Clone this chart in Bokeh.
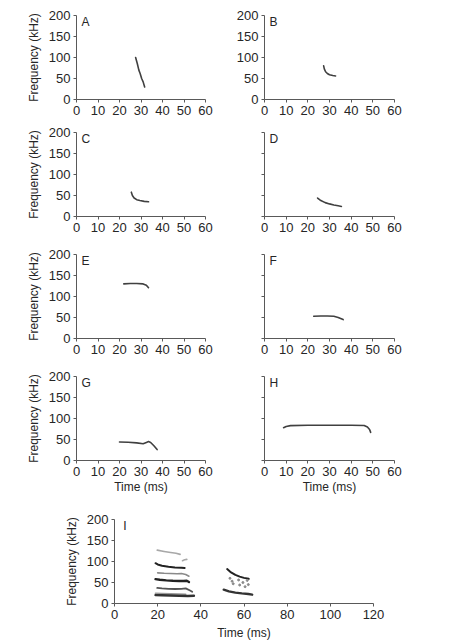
from bokeh.plotting import figure
from bokeh.models import Range1d, FixedTicker, Label
from bokeh.layouts import column, row
from bokeh.embed import file_html
from bokeh.resources import INLINE

# ---------------- data (time ms, frequency kHz) ----------------
a_t = [27.5, 28.3, 29.0, 29.6, 30.3, 31.0, 31.7]
a_f = [100, 85, 70, 62, 50, 42, 30]

b_t = [27.3, 27.6, 28.2, 29.0, 30.0, 31.5, 32.8]
b_f = [80, 73, 66, 62, 59, 57, 56]

c_t = [25.5, 26.0, 26.8, 28.0, 29.5, 31.5, 33.5]
c_f = [58, 50, 44, 40, 38, 36, 35]

d_t = [24.5, 26, 28, 30, 32, 34, 35.5]
d_f = [44, 38, 33, 30, 27.5, 25.5, 24]

e_t = [22, 25, 28, 31, 32.5, 33.5]
e_f = [130, 131, 131, 130, 127, 121]

f_t = [22.7, 26, 29, 32, 34, 36.3]
f_f = [53, 53.5, 53.5, 53, 50, 45]

g_t = [20, 24, 28, 31, 32.5, 33.5, 34.5, 36, 37.5]
g_f = [44, 43.5, 42, 40, 43, 45, 43, 35, 26]

h_t = [8.8, 10, 12, 20, 30, 40, 46, 47.5, 48.5, 49]
h_f = [78, 81, 83, 84, 84, 84, 83.5, 80, 74, 67]

# panel I: harmonics of two pulses
i1_t = [19.8, 23, 26, 28.5, 30.4]
i1_f = [127, 124, 121.5, 119.5, 117]
i1b_t = [31.5, 32.5, 33.5]
i1b_f = [102, 104, 105]
i2_t = [19, 20, 22, 25, 28, 31, 32.5]
i2_f = [96, 93, 90, 87.5, 86, 85, 84.5]
i3_t = [20, 23, 26, 29, 31, 33, 34.5]
i3_f = [73, 72, 71.5, 71, 71.5, 69, 65]
i4_t = [19, 21, 24, 27, 30, 32, 33.5, 34.5]
i4_f = [58, 56.5, 55, 54, 53.5, 53.5, 54, 51]
i5_t = [19.8, 22, 25, 28, 31, 33, 35, 36]
i5_f = [37, 36, 35, 34.5, 35, 36, 31, 28]
i6_t = [19, 22, 26, 30, 34, 36.8]
i6_f = [20, 19.5, 19, 18.5, 18, 18.5]
i6b_t = [19, 22, 26, 30, 33]
i6b_f = [24, 23.5, 23, 22.5, 22]
i7_t = [52.2, 54, 56, 58, 60, 62.2]
i7_f = [82, 74, 68, 64, 61, 59]
i8_t = [50.6, 53, 56, 59, 62, 63.8]
i8_f = [33, 29, 26, 24, 22.5, 21]
idot_t = [53.5, 54.5, 55, 57.5, 58, 59.5, 60.5, 61.5, 62]
idot_f = [60, 53, 47, 56, 44, 50, 40, 55, 45]

x_ticks_small = [0, 10, 20, 30, 40, 50, 60]
x_ticks_big = [0, 20, 40, 60, 80, 100, 120]
y_ticks = [0, 50, 100, 150, 200]

FONT = "Liberation Sans"
TXT = "#262626"
AX = "#595959"
TRACE = "#404040"


def panel(letter, traces, w, h, bl, br, bt, bb, ytitle, ylabels, xtitle,
          xmax=60, xticks=x_ticks_small, dots=None, xls=1):
    p = figure(width=w, height=h, output_backend="svg", toolbar_location=None,
               x_range=Range1d(0, xmax), y_range=Range1d(0, 200),
               min_border_left=bl, min_border_right=br,
               min_border_top=bt, min_border_bottom=bb)
    p.outline_line_color = None
    p.grid.visible = False
    p.background_fill_color = "white"
    p.border_fill_color = "white"
    for ax in (p.xaxis[0], p.yaxis[0]):
        ax.axis_line_color = AX
        ax.major_tick_line_color = AX
        ax.minor_tick_line_color = None
        ax.major_tick_out = 3
        ax.major_tick_in = 0
        ax.major_label_text_font = FONT
        ax.major_label_text_font_size = "13px"
        ax.major_label_text_color = TXT
        ax.axis_label_text_font = FONT
        ax.axis_label_text_font_size = "12px"
        ax.axis_label_text_font_style = "normal"
        ax.axis_label_text_color = TXT
    p.xaxis.ticker = FixedTicker(ticks=xticks)
    p.yaxis.ticker = FixedTicker(ticks=y_ticks)
    p.xaxis.major_label_standoff = 3
    p.yaxis.major_label_standoff = 3
    p.xaxis.axis_label_standoff = xls
    p.yaxis.axis_label_standoff = 5
    if ytitle:
        p.yaxis.axis_label = "Frequency (kHz)"
    if not ylabels:
        p.yaxis.major_label_overrides = {v: "" for v in y_ticks}
    if xtitle:
        p.xaxis.axis_label = "Time (ms)"
    for t, f, col, lw in traces:
        p.line(t, f, line_color=col, line_width=lw, line_cap="round", line_join="round")
    if dots is not None:
        p.scatter(dots[0], dots[1], size=2, color="#8a8a8a")
    lx = 2.3 if xmax == 60 else 4.0
    p.add_layout(Label(x=lx, y=184, text=letter, text_font=FONT, text_font_size="12px",
                       text_color=TXT, text_baseline="middle", text_align="left"))
    return p


LW, RW = 230, 236
rows_spec = [
    (124, 15, 25, ("A", a_t, a_f), ("B", b_t, b_f), False, True),
    (122, 8, 30, ("C", c_t, c_f), ("D", d_t, d_f), False, False),
    (122, 8, 30, ("E", e_t, e_f), ("F", f_t, f_f), False, False),
    (136, 8, 44, ("G", g_t, g_f), ("H", h_t, h_f), True, False),
]

rows = []
for h, bt, bb, left, right, xt, rlabels in rows_spec:
    pl = panel(left[0], [(left[1], left[2], TRACE, 1.6)], LW, h, 76, 25, bt, bb,
               True, True, xt)
    pr = panel(right[0], [(right[1], right[2], TRACE, 1.6)], RW, h, 34, 72, bt, bb,
               False, rlabels, xt)
    rows.append(row(pl, pr, spacing=0))

i_traces = [
    (i1_t, i1_f, "#a8a8a8", 1.6),
    (i1b_t, i1b_f, "#a8a8a8", 1.6),
    (i2_t, i2_f, "#222222", 2),
    (i3_t, i3_f, "#8a8a8a", 1.6),
    (i4_t, i4_f, "#222222", 2.4),
    (i5_t, i5_f, "#555555", 1.8),
    (i6b_t, i6b_f, "#9a9a9a", 1.6),
    (i6_t, i6_f, "#333333", 2.4),
    (i7_t, i7_f, "#222222", 2),
    (i8_t, i8_f, "#333333", 2.4),
]
pi = panel("I", i_traces, 466, 138, 114, 93, 15, 38, True, True, True,
           xmax=120, xticks=x_ticks_big, dots=(idot_t, idot_f), xls=4)
rows.append(row(pi, spacing=0))

layout = column(*rows, spacing=0)
open("out.html", "w").write(file_html(layout, INLINE))
